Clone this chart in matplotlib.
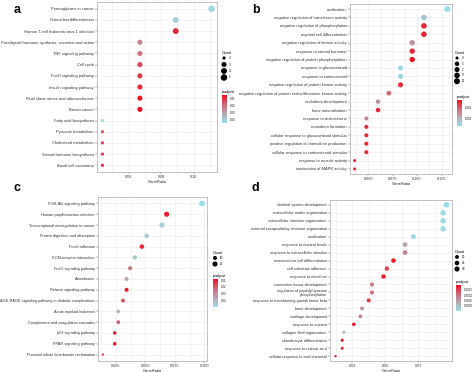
import matplotlib
matplotlib.use("Agg")
import matplotlib.pyplot as plt
import numpy as np
from matplotlib.colors import LinearSegmentedColormap, Normalize
from matplotlib.cm import ScalarMappable

plt.rcParams['font.family'] = ['Liberation Sans', 'DejaVu Sans']

# ---- panel a: KEGG ----
a_terms = ["Proteoglycans in cancer", "Osteoclast differentiation",
           "Human T-cell leukemia virus 1 infection",
           "Parathyroid hormone synthesis, secretion and action",
           "TNF signaling pathway", "Cell cycle", "FoxO signaling pathway",
           "Insulin signaling pathway", "Fluid shear stress and atherosclerosis",
           "Breast cancer", "Fatty acid biosynthesis", "Pyruvate metabolism",
           "Cholesterol metabolism", "Steroid hormone biosynthesis",
           "Basal cell carcinoma"]
a_ratio = [0.111, 0.089, 0.089, 0.067, 0.067, 0.067, 0.067, 0.067, 0.067,
           0.067, 0.044, 0.044, 0.044, 0.044, 0.044]
a_count = [5, 4, 4, 3, 3, 3, 3, 3, 3, 3, 2, 2, 2, 2, 2]
a_padj = [0.0435, 0.0414, 0.0088, 0.0251, 0.0210, 0.0129, 0.0108, 0.0088,
          0.0067, 0.0047, 0.0455, 0.0169, 0.0129, 0.0108, 0.0088]
a_xticks = [0.06, 0.08, 0.10]
a_xticklabels = ["0.06", "0.08", "0.10"]
a_count_breaks = [2, 3, 4, 5]
a_cbar_ticks = [0.01, 0.02, 0.03, 0.04]

# ---- panel b: GO ----
b_terms = ["ossification", "negative regulation of transferase activity",
           "negative regulation of phosphorylation", "myeloid cell differentiation",
           "negative regulation of kinase activity", "response to steroid hormone",
           "negative regulation of protein phosphorylation",
           "response to glucocorticoid", "response to corticosteroid",
           "negative regulation of protein kinase activity",
           "negative regulation of protein serine/threonine kinase activity",
           "endoderm development", "bone mineralization",
           "response to testosterone", "endoderm formation",
           "cellular response to glucocorticoid stimulus",
           "positive regulation of chemokine production",
           "cellular response to corticosteroid stimulus",
           "response to muscle activity", "inactivation of MAPK activity"]
b_ratio = [0.131, 0.107, 0.107, 0.107, 0.095, 0.095, 0.095, 0.083, 0.083,
           0.083, 0.071, 0.060, 0.060, 0.048, 0.048, 0.048, 0.048, 0.048,
           0.036, 0.036]
b_count = [11, 9, 9, 9, 8, 8, 8, 7, 7, 7, 6, 5, 5, 4, 4, 4, 4, 4, 3, 3]
b_padj = [0.00263, 0.00228, 0.00053, 0.00049, 0.00158, 0.00053, 0.00030,
          0.00251, 0.00251, 0.00058, 0.00112, 0.00158, 0.00049, 0.00147,
          0.00053, 0.00053, 0.00053, 0.00053, 0.00053, 0.00053]
b_xticks = [0.050, 0.075, 0.100, 0.125]
b_xticklabels = ["0.050", "0.075", "0.100", "0.125"]
b_count_breaks = [3, 5, 7, 9, 11]
b_cbar_ticks = [0.001, 0.002]

# ---- panel c: KEGG ----
c_terms = ["PI3K-Akt signaling pathway", "Human papillomavirus infection",
           "Transcriptional misregulation in cancer",
           "Protein digestion and absorption", "Focal adhesion",
           "ECM-receptor interaction", "FoxO signaling pathway", "Amoebiasis",
           "Relaxin signaling pathway",
           "AGE-RAGE signaling pathway in diabetic complications",
           "Acute myeloid leukemia", "Complement and coagulation cascades",
           "p53 signaling pathway", "PPAR signaling pathway",
           "Proximal tubule bicarbonate reclamation"]
c_ratio = [0.098, 0.068, 0.064, 0.051, 0.047, 0.041, 0.037, 0.034, 0.034,
           0.031, 0.027, 0.027, 0.024, 0.024, 0.014]
c_count = [29, 20, 19, 15, 14, 12, 11, 10, 10, 9, 8, 8, 7, 7, 4]
c_padj = [0.0490, 0.0104, 0.0449, 0.0441, 0.0125, 0.0429, 0.0246, 0.0348,
          0.0104, 0.0186, 0.0389, 0.0206, 0.0104, 0.0084, 0.0165]
c_xticks = [0.025, 0.050, 0.075, 0.100]
c_xticklabels = ["0.025", "0.050", "0.075", "0.100"]
c_count_breaks = [10, 20]
c_cbar_ticks = [0.01, 0.02, 0.03, 0.04]

# ---- panel d: GO ----
d_terms = ["skeletal system development", "extracellular matrix organization",
           "extracellular structure organization",
           "external encapsulating structure organization", "ossification",
           "response to nutrient levels", "response to extracellular stimulus",
           "mononuclear cell differentiation", "cell-substrate adhesion",
           "response to metal ion", "connective tissue development",
           "regulation of peptidyl-tyrosine\nphosphorylation",
           "response to transforming growth factor beta", "bone development",
           "cartilage development", "response to nutrient",
           "collagen fibril organization", "chondrocyte differentiation",
           "response to retinoic acid", "cellular response to acid chemical"]
d_ratio = [0.087, 0.085, 0.085, 0.085, 0.067, 0.062, 0.062, 0.055, 0.051,
           0.049, 0.042, 0.042, 0.040, 0.036, 0.035, 0.031, 0.025, 0.024,
           0.024, 0.020]
d_count = [48, 47, 47, 47, 37, 34, 34, 30, 28, 27, 23, 23, 22, 20, 19, 17,
           14, 13, 13, 11]
d_padj = [0.00102, 0.00099, 0.00099, 0.00099, 0.00097, 0.00067, 0.00052,
          0.00006, 0.00021, 0.00006, 0.00046, 0.00041, 0.00016, 0.00057,
          0.00046, 0.00006, 0.00082, 0.00006, 0.00009, 0.00001]
d_xticks = [0.03, 0.05, 0.07]
d_xticklabels = ["0.03", "0.05", "0.07"]
d_count_breaks = [20, 30, 40]
d_cbar_ticks = [0.0002, 0.0004, 0.0006, 0.0008]

W, H = 474, 372
cmap = LinearSegmentedColormap.from_list(
    "padj", ["#ee1020", "#cf6878", "#b7a8b4", "#98e0e8"])


def px(x, y, w=0, h=0):
    # pixel box (top-left origin) -> figure fraction rect
    return [x / W, 1 - (y + h) / H, w / W, h / H]


def dot_size(c, cmin, cmax, dmin, dmax):
    frac = np.sqrt((np.asarray(c, float) - cmin) / (cmax - cmin))
    d = (dmin + frac * (dmax - dmin)) * 0.72
    return d ** 2


def panel(fig, box, terms, ratio, count, padj, xticks, xticklabels,
          count_breaks, cbar_ticks, drange, leg, fs):
    ax = fig.add_axes(px(*box))
    n = len(terms)
    ypos = np.arange(n)[::-1]
    cmin, cmax = min(count), max(count)
    norm = Normalize(min(padj), max(padj))
    ax.set_axisbelow(True)
    ax.scatter(ratio, ypos, s=dot_size(count, cmin, cmax, *drange),
               c=padj, cmap=cmap, norm=norm, linewidths=0, zorder=3)
    ax.margins(x=0.05)
    ax.set_ylim(-0.6, n - 0.4)
    ax.set_yticks(ypos)
    ax.set_yticklabels(terms, fontsize=fs, color="#333333", linespacing=0.9)
    ax.set_xticks(xticks)
    ax.set_xticklabels(xticklabels, fontsize=2.7, color="#333333")
    lo, hi = ax.get_xlim()
    step = xticks[1] - xticks[0]
    minor = np.arange(xticks[0] - step * 1.5, hi, step)
    ax.set_xticks([m for m in minor if lo < m < hi], minor=True)
    ax.tick_params(which="minor", length=0)
    ax.tick_params(which="major", length=1.2, width=0.3, color="#555555", pad=1)
    ax.grid(True, which="both", color="#ebebeb", lw=0.4)
    for sp in ax.spines.values():
        sp.set_color("#aaaaaa")
        sp.set_linewidth(0.5)
    ax.set_xlabel("GeneRatio", fontsize=2.9, labelpad=1, color="#222222")

    # Count legend
    lx, ly, dy, cbx, cby, cbh = leg
    fig.text(lx / W, 1 - ly / H, "Count", fontsize=2.7, va="center")
    lax = fig.add_axes([0, 0, 1, 1])
    lax.set_xlim(0, W)
    lax.set_ylim(H, 0)
    lax.axis("off")
    lx_dots = [lx + 2] * len(count_breaks)
    ly_dots = [ly + 5 + i * dy for i in range(len(count_breaks))]
    lax.scatter(lx_dots, ly_dots,
                s=dot_size(count_breaks, cmin, cmax, *drange),
                color="black", linewidths=0)
    for yy, cb in zip(ly_dots, count_breaks):
        lax.text(lx + 7, yy, str(cb), fontsize=2.2, va="center")

    # p.adjust colour bar
    fig.text(cbx / W, 1 - (cby - 3) / H, "p.adjust", fontsize=2.7, va="center")
    cax = fig.add_axes(px(cbx, cby, 5, cbh))
    sm = ScalarMappable(norm=norm, cmap=cmap)
    cb = fig.colorbar(sm, cax=cax)
    cb.outline.set_visible(False)
    cax.invert_yaxis()
    cb.set_ticks(cbar_ticks)
    cb.set_ticklabels([f"{t:g}" for t in cbar_ticks])
    cax.tick_params(labelsize=2.0, length=1, width=0.3, pad=1, color="white")


fig = plt.figure(figsize=(W / 100, H / 100), dpi=100)

panel(fig, (97, 2, 120, 170), a_terms, a_ratio, a_count, a_padj,
      a_xticks, a_xticklabels, a_count_breaks, a_cbar_ticks, (3.2, 6.5),
      (222, 53, 6.5, 222, 95, 28), 2.85)
panel(fig, (350, 4, 102, 170), b_terms, b_ratio, b_count, b_padj,
      b_xticks, b_xticklabels, b_count_breaks, b_cbar_ticks, (3.0, 6.0),
      (455, 53, 5.8, 457, 100, 26), 2.85)
panel(fig, (98, 197, 109, 164), c_terms, c_ratio, c_count, c_padj,
      c_xticks, c_xticklabels, c_count_breaks, c_cbar_ticks, (2.3, 5.8),
      (213, 253, 6, 213, 279, 28), 2.8)
panel(fig, (330, 200, 122, 161), d_terms, d_ratio, d_count, d_padj,
      d_xticks, d_xticklabels, d_count_breaks, d_cbar_ticks, (2.3, 5.5),
      (455, 252, 6, 456, 285, 26), 2.8)

for letter, x, y in [("a", 14, 10), ("b", 252, 10), ("c", 14, 188), ("d", 252, 188)]:
    fig.text(x / W, 1 - y / H, letter, fontsize=9, fontweight="bold",
             va="center")

fig.savefig("out.png", dpi=100)
